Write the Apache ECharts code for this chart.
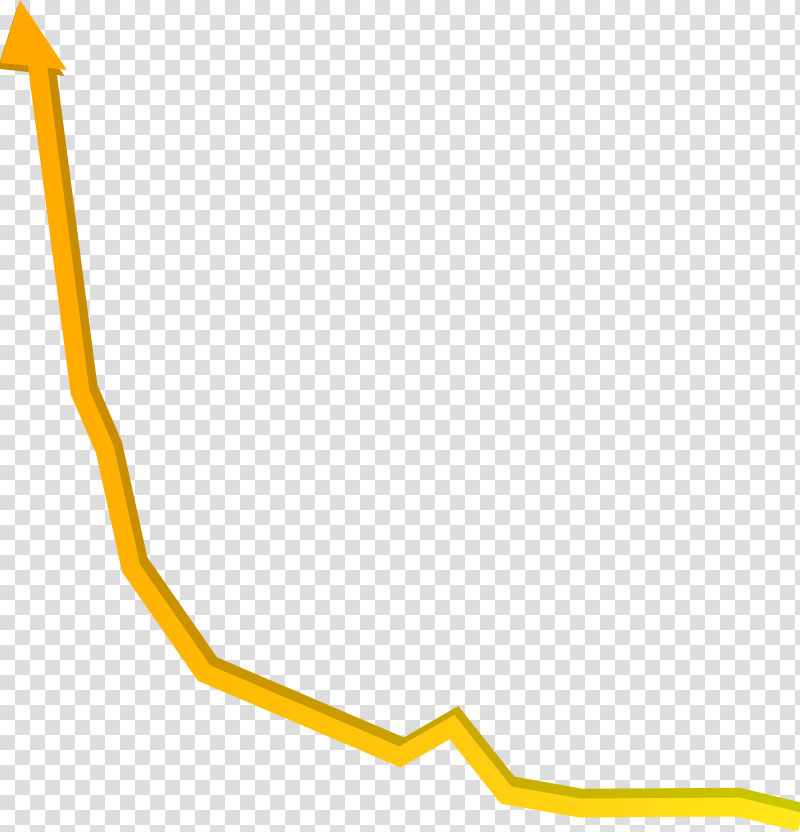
<!DOCTYPE html>
<html>
<head>
<meta charset="utf-8">
<script src="https://cdn.jsdelivr.net/npm/echarts@6/dist/echarts.min.js"></script>
<style>
  html, body { margin: 0; padding: 0; }
  body {
    width: 800px; height: 832px; overflow: hidden;
    background: repeating-conic-gradient(#dddddd 0 25%, #ffffff 0 50%) 0 0 / 30px 30px;
  }
  #main { width: 800px; height: 832px; }
</style>
</head>
<body>
<div id="main"></div>
<script>
// trend values (x = time, y = level)
var xs = [37, 80, 105, 131, 204, 400, 452, 506, 580, 738, 800];
var ys = [770, 440, 382, 264, 159, 75, 105, 37, 24, 25, 10];

var points = xs.map(function(x, i) { return [x, ys[i]]; });

// arrow head shape (tip up)
var arrowPath = 'path://M20,0 L67,68 L0,61 Z';

var chart = echarts.init(document.getElementById('main'));

function axes(idx) {
  return {
    x: { type: 'value', gridIndex: idx, min: 0, max: 800, show: false },
    y: { type: 'value', gridIndex: idx, min: 0, max: 832, show: false }
  };
}
var a0 = axes(0), a1 = axes(1);

var faceGrad = new echarts.graphic.LinearGradient(0, 0, 1, 0, [
  {offset: 0, color: '#ffa800'},
  {offset: 0.25, color: '#ffbb04'},
  {offset: 0.5, color: '#ffc80e'},
  {offset: 0.75, color: '#ffd814'},
  {offset: 1, color: '#ffe91a'}
]);
var sideGrad = new echarts.graphic.LinearGradient(0, 0, 1, 0, [
  {offset: 0, color: '#c88a00'},
  {offset: 0.25, color: '#c99400'},
  {offset: 0.5, color: '#c9a300'},
  {offset: 0.75, color: '#c9b800'},
  {offset: 1, color: '#c9c900'}
]);

chart.setOption({
  animation: false,
  backgroundColor: 'transparent',
  grid: [
    {left: 0, right: 0, top: 0, bottom: 0},
    // side of the ribbon, nudged up-right
    {left: 9, right: -9, top: -10, bottom: 10}
  ],
  xAxis: [a0.x, a1.x],
  yAxis: [a0.y, a1.y],
  series: [
    {
      type: 'line', xAxisIndex: 1, yAxisIndex: 1,
      data: points, symbol: 'none', silent: true, z: 1,
      lineStyle: {width: 19, color: sideGrad, join: 'miter', cap: 'butt'}
    },
    {
      type: 'scatter', xAxisIndex: 0, yAxisIndex: 0,
      data: [points[0]], symbol: arrowPath, symbolSize: [67, 70],
      symbolOffset: [-6, -21], silent: true, z: 2,
      itemStyle: {color: '#c88a00', opacity: 1}
    },
    {
      type: 'line', xAxisIndex: 0, yAxisIndex: 0,
      data: points, symbol: 'none', silent: true, z: 3,
      lineStyle: {width: 19, color: faceGrad, join: 'miter', cap: 'butt'}
    },
    {
      type: 'scatter', xAxisIndex: 0, yAxisIndex: 0,
      data: [points[0]], symbol: arrowPath, symbolSize: [67, 70],
      symbolOffset: [-3.5, -27], silent: true, z: 4,
      itemStyle: {color: '#ffa800', opacity: 1}
    }
  ]
});

window.addEventListener('resize', function() { chart.resize(); });
</script>
</body>
</html>
